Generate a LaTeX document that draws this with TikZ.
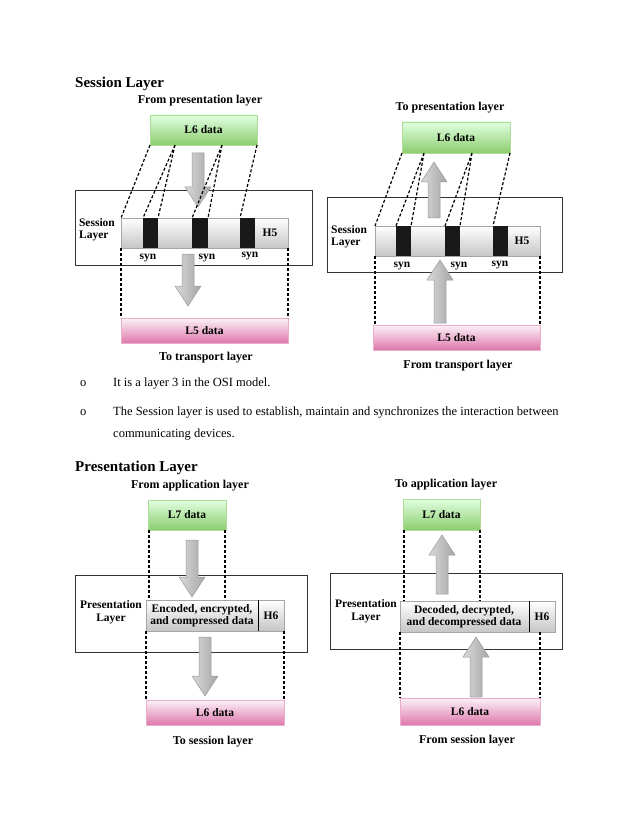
\documentclass[tikz,border=0pt]{standalone}
\usepackage{fontspec}
\setmainfont{Liberation Serif}
\definecolor{pk}{RGB}{222,120,172}
\definecolor{gr}{RGB}{140,205,110}
\begin{document}
\begin{tikzpicture}[x=1pt,y=-1pt,
 green/.style={draw=gr!70,top color=green!12,bottom color=gr},
 pink/.style={draw=pk!60,top color=pk!10,bottom color=pk},
 strip/.style={draw=gray!70,top color=white,bottom color=gray!45},
 outer/.style={draw=black!80,line width=0.6pt},
 blk/.style={fill=black!90},
 dsh/.style={dashed,line width=1.2pt,dash pattern=on 3pt off 2pt},
 arr/.style={draw=gray!80,left color=gray!30,right color=gray!70,line width=0.5pt},
 lbl/.style={font=\bfseries\fontsize{11.5}{12.5}\selectfont,align=center},
 capt/.style={font=\bfseries\fontsize{12}{14}\selectfont},
 body/.style={font=\fontsize{12.5}{14}\selectfont,anchor=west,inner sep=0pt},
 ttl/.style={font=\bfseries\fontsize{15}{17}\selectfont,anchor=west,inner sep=0pt}]
\useasboundingbox (0,0) rectangle (638,826);
\newcommand\myarrdown[3]{\path[arr] (#1-6,#2) -- (#1+6,#2) -- (#1+6,#3-20) -- (#1+13,#3-20) -- (#1,#3) -- (#1-13,#3-20) -- (#1-6,#3-20) -- cycle;}
\newcommand\myarrup[3]{\path[arr] (#1-6,#2) -- (#1+6,#2) -- (#1+6,#3+20) -- (#1+13,#3+20) -- (#1,#3) -- (#1-13,#3+20) -- (#1-6,#3+20) -- cycle;}
% ---------- Session left
\node[ttl] (t1) at (75,84) {Session Layer};
\node[capt] (a1) at (200,101) {From presentation layer};
\draw[outer] (75,190) rectangle (312,265);
\node[lbl,align=left] (a2) at (97,230) {Session\\Layer};
\node[green,minimum width=107pt,minimum height=30pt,lbl] (l6a) at (203.5,130) {L6 data};
\myarrdown{198}{153}{207}
\draw[strip] (121,218) rectangle (288,248);
\fill[blk] (143,218) rectangle (158,248);
\fill[blk] (192,218) rectangle (208,248);
\fill[blk] (240,218) rectangle (255,248);
\node[lbl] (h5a) at (270,233) {H5};
\node[lbl] (s1) at (148,258) {syn};
\node[lbl] (s2) at (207,258) {syn};
\node[lbl] (s3) at (250,256) {syn};
\myarrdown{188}{254}{306}
\node[pink,minimum width=167pt,minimum height=25pt,lbl] (l5a) at (204.5,330.5) {L5 data};
\node[capt] (a3) at (206,358) {To transport layer};
\draw[dsh] (150,145)--(121,218) (175,145)--(143,218) (175,145)--(158,218)
 (222,145)--(192,218) (222,145)--(208,218) (257,145)--(240,218);
\draw[dsh] (121,248)--(121,318) (288,248)--(288,318);
% ---------- Session right
\node[capt] (b1) at (450,108) {To presentation layer};
\draw[outer] (327,197) rectangle (562,272);
\node[lbl,align=left] (b2) at (349,237) {Session\\Layer};
\node[green,minimum width=108pt,minimum height=31pt,lbl] (l6b) at (456,137.5) {L6 data};
\myarrup{434}{218}{162}
\draw[strip] (375,226) rectangle (540,256);
\fill[blk] (396,226) rectangle (411,256);
\fill[blk] (445,226) rectangle (460,256);
\fill[blk] (493,226) rectangle (508,256);
\node[lbl] (h5b) at (522,241) {H5};
\node[lbl] (s4) at (402,266) {syn};
\node[lbl] (s5) at (459,266) {syn};
\node[lbl] (s6) at (500,265) {syn};
\myarrup{440}{323}{260}
\node[pink,minimum width=167pt,minimum height=25pt,lbl] (l5b) at (456.5,337.5) {L5 data};
\node[capt] (b3) at (458,366) {From transport layer};
\draw[dsh] (402,153)--(375,226) (424,153)--(396,226) (424,153)--(411,226)
 (472,153)--(445,226) (472,153)--(460,226) (510,153)--(493,226);
\draw[dsh] (375,256)--(375,325) (540,256)--(540,325);
% ---------- bullets
\node[body] (o1) at (80,384) {o};
\node[body] (p1) at (113,384) {It is a layer 3 in the OSI model.};
\node[body] (o2) at (80,413) {o};
\node[body] (p2) at (113,413) {The Session layer is used to establish, maintain and synchronizes the interaction between};
\node[body] (p3) at (113,435) {communicating devices.};
% ---------- Presentation left
\node[ttl] (t2) at (75,468) {Presentation Layer};
\node[capt] (c1) at (190,486) {From application layer};
\draw[outer] (75,575) rectangle (307,652);
\node[lbl] (c2) at (111,612) {Presentation\\Layer};
\node[green,minimum width=78pt,minimum height=30pt,lbl] (l7a) at (187,515) {L7 data};
\myarrdown{192}{540}{597}
\draw[strip] (146,600) rectangle (284,631);
\draw[line width=1pt] (258,600)--(258,631);
\node[lbl] (c3) at (202,615.5) {Encoded, encrypted,\\and compressed data};
\node[lbl] (h6a) at (271,615.5) {H6};
\myarrdown{205}{637}{696}
\node[pink,minimum width=138pt,minimum height=25pt,lbl] (l6c) at (215,712.5) {L6 data};
\node[capt] (c4) at (213,742) {To session layer};
\draw[dsh] (149,530)--(149,600) (225,530)--(225,600) (146,631)--(146,700) (284,631)--(284,700);
% ---------- Presentation right
\node[capt] (d1) at (446,485) {To application layer};
\draw[outer] (330,573) rectangle (562,649);
\node[lbl] (d2) at (366,611) {Presentation\\Layer};
\node[green,minimum width=77pt,minimum height=31pt,lbl] (l7b) at (441.5,514.5) {L7 data};
\myarrup{442}{594}{535}
\draw[strip] (400,601) rectangle (555,632);
\draw[line width=1pt] (529,601)--(529,632);
\node[lbl] (d3) at (464,616.5) {Decoded, decrypted,\\and decompressed data};
\node[lbl] (h6b) at (542,616.5) {H6};
\myarrup{476}{697}{637}
\node[pink,minimum width=140pt,minimum height=27pt,lbl] (l6d) at (470,711.5) {L6 data};
\node[capt] (d4) at (467,741) {From session layer};
\draw[dsh] (404,530)--(404,601) (480,530)--(480,601) (400,632)--(400,698) (540,632)--(540,698);
\end{tikzpicture}
\end{document}
